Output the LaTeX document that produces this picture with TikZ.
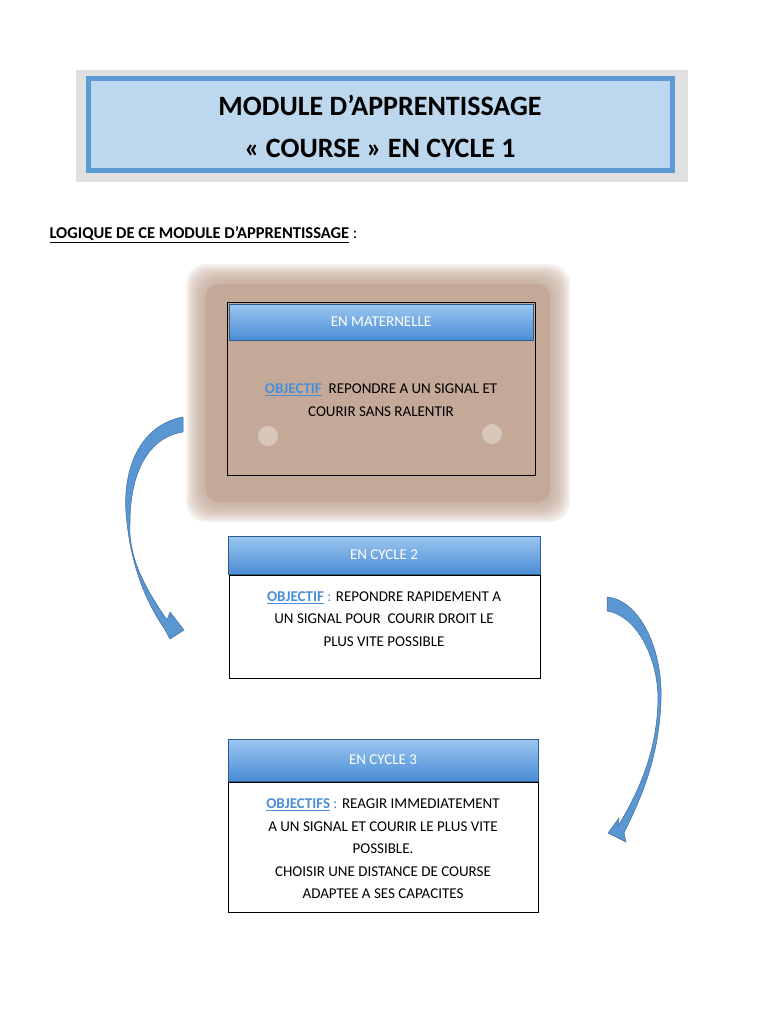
\documentclass[tikz,border=0pt]{standalone}
\usepackage{fontspec}
\setmainfont{Carlito}
\usepackage{xcolor}
\definecolor{tblue}{HTML}{BDD7EE}
\definecolor{tborder}{HTML}{5B9BD5}
\definecolor{brn}{HTML}{C4A898}
\definecolor{hdtop}{HTML}{9CC7F0}
\definecolor{hdbot}{HTML}{4A8CD6}
\definecolor{hdline}{HTML}{2F5E8E}
\definecolor{objblue}{HTML}{4A8FD8}
\definecolor{arrf}{HTML}{5A97D2}
\definecolor{arrd}{HTML}{3F6F9F}
\tikzset{
 hdr/.style={draw=hdline,line width=0.8pt,top color=hdtop,bottom color=hdbot,text=white,font=\fontsize{15}{18}\selectfont},
 bodybox/.style={draw=black,line width=0.8pt},
 bodytxt/.style={align=center,font=\fontsize{15}{22.5}\selectfont},
 arrowshape/.style={fill=arrf,draw=arrd,line width=0.5pt}
}
\newcommand{\obj}[1]{\textcolor{objblue}{\underline{\textbf{#1}}}}
\begin{document}
\begin{tikzpicture}[x=1pt,y=-1pt]
\useasboundingbox[fill=white] (0,0) rectangle (768,1024);
% title
\fill[black!25] (80,74) rectangle (684,178);
\fill[black!12] (76,70) rectangle (688,182);
\draw[fill=tblue,draw=tborder,line width=5pt] (88,79) rectangle (672,171);
\node[font=\fontsize{28}{42}\selectfont\bfseries,align=center] (title) at (380,126) {MODULE D’APPRENTISSAGE\\« COURSE » EN CYCLE 1};
\node[anchor=base west,font=\fontsize{16.5}{20}\selectfont] (logic) at (46,239) {\underline{\textbf{LOGIQUE DE CE MODULE D’APPRENTISSAGE}} :};
% brown blur
\foreach \i in {0,...,9}{
 \fill[brn,opacity=0.16,rounded corners=20pt] (186+2*\i,264+2*\i) rectangle (570-2*\i,522-2*\i);
}
\fill[brn,rounded corners=12pt] (206,284) rectangle (550,502);
\fill[white,opacity=0.35] (268,436) circle (10pt);
\fill[white,opacity=0.35] (492,434) circle (10pt);
% box 1
\draw[bodybox] (227,302) rectangle (535,475);
\node[hdr,minimum width=304pt,minimum height=36pt] (h1) at (381,322) {EN MATERNELLE};
\node[bodytxt] (b1) at (381,400) {\obj{OBJECTIF}\ \ REPONDRE A UN SIGNAL ET\\COURIR SANS RALENTIR};
% box 2
\draw[bodybox,fill=white] (229,575) rectangle (540,678);
\node[hdr,minimum width=312pt,minimum height=38pt] (h2) at (384,555) {EN CYCLE 2};
\node[bodytxt] (b2) at (384,619) {\obj{OBJECTIF} \textcolor{objblue}{:} REPONDRE RAPIDEMENT A\\UN SIGNAL POUR\ \ COURIR DROIT LE\\PLUS VITE POSSIBLE};
% box 3
\draw[bodybox,fill=white] (228,782) rectangle (538,912);
\node[hdr,minimum width=310pt,minimum height=42pt] (h3) at (383,760) {EN CYCLE 3};
\node[bodytxt] (b3) at (383,849) {\obj{OBJECTIFS} \textcolor{objblue}{:} REAGIR IMMEDIATEMENT\\A UN SIGNAL ET COURIR LE PLUS VITE\\POSSIBLE.\\CHOISIR UNE DISTANCE DE COURSE\\ADAPTEE A SES CAPACITES};
% arrows
\filldraw[arrowshape] (183,417) .. controls (140,425) and (120,470) .. (127,523)
 .. controls (132,570) and (148,605) .. (164,628) -- (170,639) -- (184,630) -- (170,612) -- (167,620)
 .. controls (148,592) and (128,560) .. (130,523) .. controls (130,470) and (150,437) .. (183,432) -- cycle;
\filldraw[arrowshape] (607,597) .. controls (640,600) and (663,650) .. (661,700)
 .. controls (659,760) and (640,800) .. (624,833) -- (626,842) -- (608,833) -- (619,818) -- (618,826)
 .. controls (640,790) and (657,750) .. (658,700) .. controls (658,655) and (635,615) .. (607,611) -- cycle;
\end{tikzpicture}
\end{document}
